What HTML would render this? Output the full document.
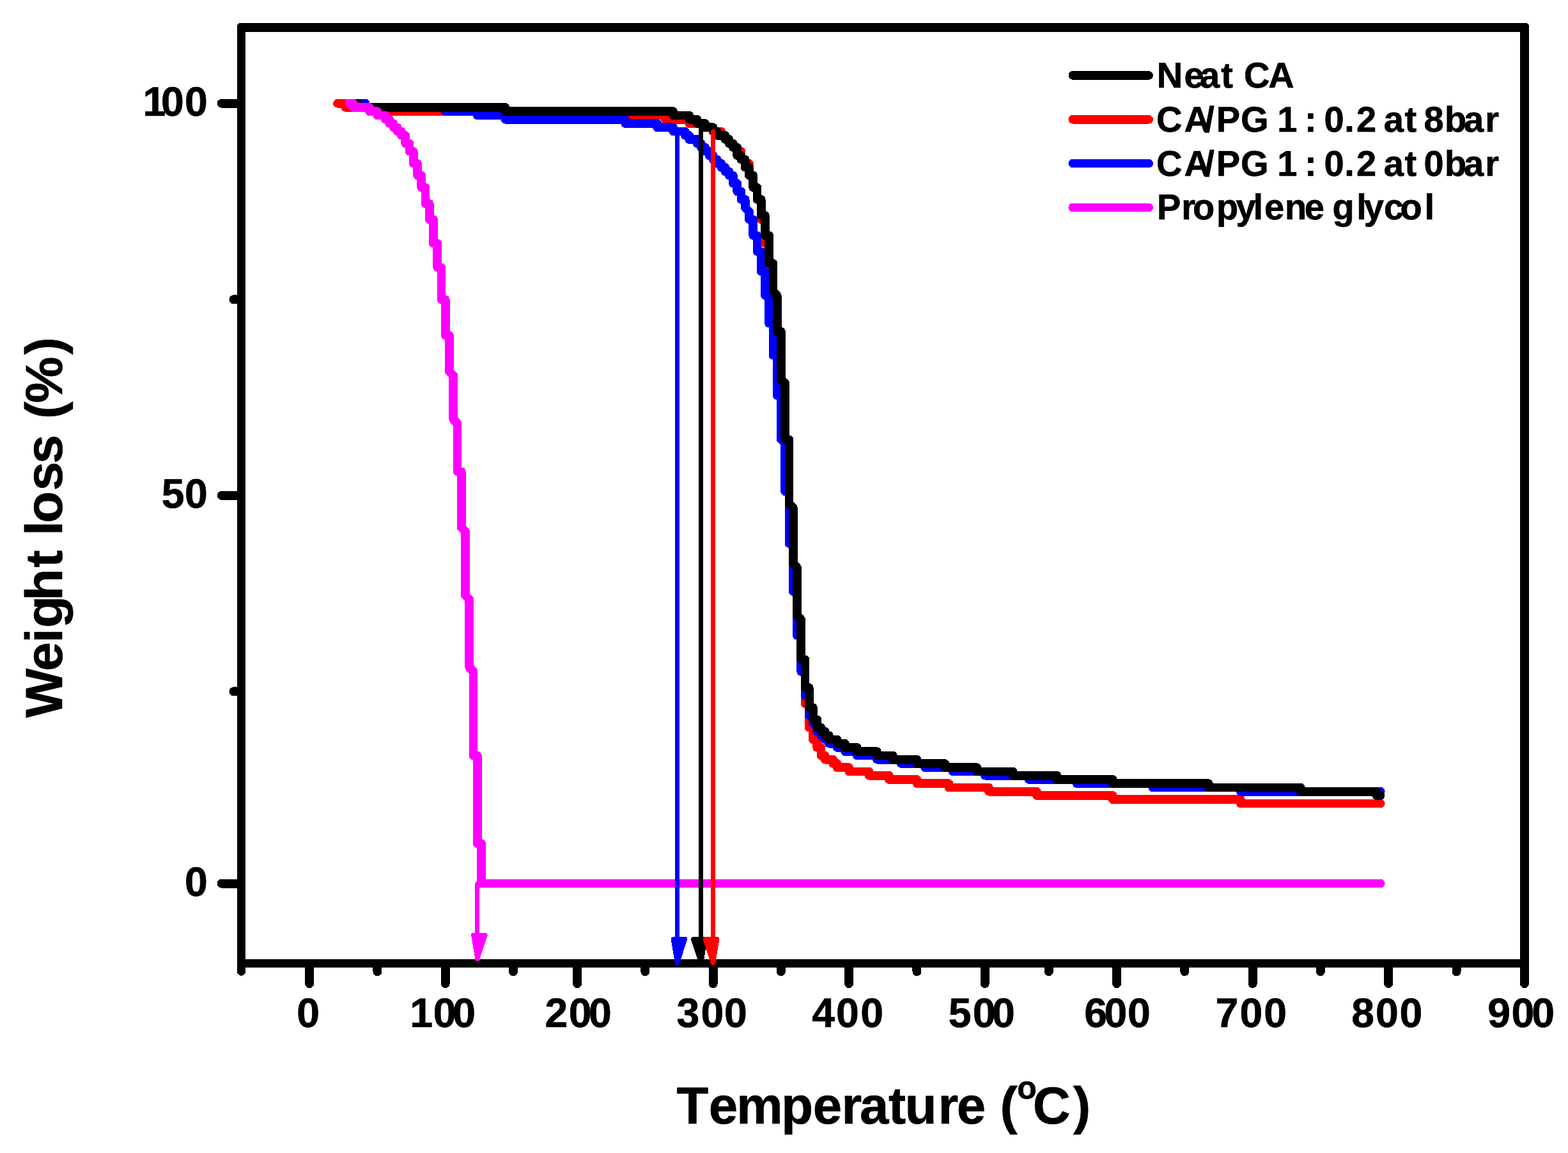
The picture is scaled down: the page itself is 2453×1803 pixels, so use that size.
<!DOCTYPE html>
<html lang="en">
<head>
<meta charset="utf-8">
<title>TGA weight loss vs temperature</title>
<style>
html,body{margin:0;padding:0;background:#fff}
body{width:2453px;height:1803px;overflow:hidden}
svg{display:block}
</style>
</head>
<body>
<svg xmlns="http://www.w3.org/2000/svg" width="2453" height="1803" viewBox="0 0 2453 1803">
<rect width="2453" height="1803" fill="#fff"/>
<g fill="#000" stroke="none" shape-rendering="crispEdges">
<path fill-rule="evenodd" d="M376 36H2387A5 5 0 0 1 2392 41V1508A5 5 0 0 1 2387 1513H376A5 5 0 0 1 371 1508V41A5 5 0 0 1 376 36ZM384 50V1500H2378V50Z"/>
</g>
<g fill="none" stroke="#000" stroke-width="14" stroke-linecap="round" stroke-linejoin="round" shape-rendering="crispEdges">
<path d="M484.18 1508.74V1538.02M590.47 1508.74V1519.25M696.75 1508.74V1538.02M803.04 1508.74V1519.25M903.07 1508.74V1538.02M1009.35 1508.74V1519.25M1115.64 1508.74V1538.02M1221.92 1508.74V1519.25M1328.2 1508.74V1538.02M1434.49 1508.74V1519.25M1540.77 1508.74V1538.02M1640.8 1508.74V1519.25M1747.09 1508.74V1538.02M1853.37 1508.74V1519.25M1959.66 1508.74V1538.02M2065.94 1508.74V1519.25M2172.22 1508.74V1538.02M2278.51 1508.74V1519.25M375.9 161.7H346.64M375.9 468.24H365.4M375.9 774.79H346.64M375.9 1081.33H365.4M375.9 1381.62H346.64"/>
</g>
<path fill="#000" shape-rendering="crispEdges" d="M371 1506V1519.25a6.5 6.5 0 0 0 13 0V1506Z"/>
<path fill="#000" shape-rendering="crispEdges" d="M2378 1506V1538.02a7 7 0 0 0 14 0V1506Z"/>
<g fill="none" stroke-width="13.7" stroke-linecap="round" stroke-linejoin="round" shape-rendering="crispEdges">
<path stroke="#f00" d="M527.95 161.7H540.45V167.96H590.47V174.21H815.54V180.47H1040.61V186.72H1078.12V192.98H1103.13V199.24H1115.64V205.49H1128.14V211.75H1134.39V218H1140.64V224.26H1146.9V230.52H1153.15V236.77H1159.4V249.28H1165.65V255.54H1171.9V274.31H1178.16V293.08H1184.41V311.84H1190.66V343.12H1196.91V380.66H1203.16V418.2H1209.42V455.73L1215.67 461.99V518.29H1221.92V593.36L1228.17 599.62V687.2H1234.42V787.3L1240.68 793.56V881.14L1246.93 887.4V962.47L1253.18 968.72V1043.8H1259.43V1100.1H1265.68V1137.64H1271.94V1156.4H1278.19V1168.92H1284.44V1181.43H1290.69V1187.68H1303.2V1193.94H1309.45V1200.2H1328.2V1206.45H1359.46V1212.71H1390.72V1218.96H1434.49V1225.22H1484.5V1231.48H1547.02V1237.73H1622.05V1243.99H1740.84V1250.24H1940.9V1256.5H2159.72"/>
<path stroke="#00f" d="M559.21 161.7H571.71V167.96H696.75V174.21H746.77V180.47H790.53V186.72H978.09V192.98H1028.11V199.24H1053.12V205.49H1071.87V211.75H1078.12V218H1090.63V224.26H1096.88V230.52H1103.13V236.77H1109.38V243.03H1115.64V249.28H1121.89V255.54H1128.14V261.8H1134.39V268.05H1140.64V274.31H1146.9V286.82H1153.15V299.33H1159.4V311.84H1165.65V324.36L1171.9 330.61V343.12H1178.16V368.15H1184.41V393.17H1190.66V424.45H1196.91V461.99H1203.16V505.78H1209.42V555.83H1215.67V618.39H1221.92V687.2L1228.17 693.46V768.53H1234.42V849.86H1240.68V924.93H1246.93V993.75H1253.18V1050.05H1259.43V1087.59H1265.68V1118.87H1271.94V1131.38H1278.19V1143.89H1284.44V1150.15H1290.69V1156.4H1296.94V1162.66H1309.45V1168.92H1321.95V1175.17H1340.71V1181.43H1371.97V1187.68H1409.48V1193.94H1446.99V1200.2H1490.76V1206.45H1540.77V1212.71H1609.54V1218.96H1684.57V1225.22H1803.36V1231.48H1940.9V1237.73H2159.72"/>
<path stroke="#000" d="M552.96 161.7H559.21V167.96H790.53V174.21H1053.12V180.47H1078.12V186.72H1090.63V192.98H1103.13V199.24H1115.64V205.49H1121.89V211.75H1134.39V218H1140.64V224.26H1146.9V230.52H1153.15V243.03H1159.4V249.28H1165.65V261.8H1171.9V274.31H1178.16V293.08H1184.41V311.84H1190.66V336.87H1196.91V368.15H1203.16V411.94H1209.42V455.73L1215.67 461.99V518.29H1221.92V593.36L1228.17 599.62V687.2H1234.42V787.3L1240.68 793.56V881.14L1246.93 887.4V962.47L1253.18 968.72V1031.28H1259.43V1075.08H1265.68V1106.36H1271.94V1125.12H1278.19V1137.64H1284.44V1143.89H1290.69V1150.15H1296.94V1156.4H1309.45V1162.66H1321.95V1168.92H1340.71V1175.17H1371.97V1181.43H1396.98V1187.68H1434.49V1193.94H1478.25V1200.2H1528.27V1206.45H1584.54V1212.71H1653.31V1218.96H1740.84V1225.22H1890.88V1231.48H2034.68V1237.73H2153.47V1243.99H2159.72"/>
<path stroke="#f0f" d="M546.7 161.7H552.96V167.96H577.96V174.21H590.47V180.47H602.97V186.72H609.22V192.98H615.48V199.24H621.73V205.49H627.98V211.75H634.23V224.26H640.48V236.77H646.74V255.54H652.99V274.31H659.24V293.08H665.49V318.1H671.74V343.12H678V380.66H684.25V418.2H690.5V468.24H696.75V524.55H703V580.85L709.26 587.11V655.92L715.51 662.18V737.25H721.76V824.84L728.01 831.09V931.19L734.26 937.44V1043.8L740.52 1050.05V1181.43H746.77V1319.06H753.02V1381.62H2159.72"/>
<path stroke="#000" d="M1678.32 117.91H1797.1"/>
<path stroke="#f00" d="M1678.32 186.72H1797.1"/>
<path stroke="#00f" d="M1678.32 255.54H1797.1"/>
<path stroke="#f0f" d="M1678.32 324.36H1797.1"/>
</g>
<g stroke="#00f" fill="#00f" stroke-width="6.8" stroke-linecap="round" stroke-linejoin="round" shape-rendering="crispEdges"><path fill="none" d="M1059.37 205.49V1468.6"/><path d="M1053.12 1468.6H1071.87L1059.37 1506.24Z"/></g>
<g stroke="#000" fill="#000" stroke-width="6.8" stroke-linecap="round" stroke-linejoin="round" shape-rendering="crispEdges"><path fill="none" d="M1096.88 192.98V1468.6"/><path d="M1084.38 1468.6H1103.13L1096.88 1506.24Z"/></g>
<g stroke="#f00" fill="#f00" stroke-width="6.8" stroke-linecap="round" stroke-linejoin="round" shape-rendering="crispEdges"><path fill="none" d="M1115.64 205.49V1468.6"/><path d="M1103.13 1468.6H1121.89L1115.64 1506.24Z"/></g>
<g stroke="#f0f" fill="#f0f" stroke-width="6.8" stroke-linecap="round" stroke-linejoin="round" shape-rendering="crispEdges"><path fill="none" d="M746.77 1381.62V1462.35"/><path d="M740.52 1462.35H759.27L746.77 1499.98Z"/></g>
<g font-family="'Liberation Sans', Arial, Helvetica, sans-serif" font-weight="bold" style="font-kerning:none;font-variant-ligatures:none" text-rendering="geometricPrecision" fill="#000" stroke="#000" stroke-width="0.7" stroke-linejoin="round">
<text x="464.3" y="1605.6" font-size="64.4">0</text>
<text x="641.3 677.8 708.2" y="1605.6" font-size="64.4">100</text>
<text x="852.6 889.8 920.9" y="1605.6" font-size="64.4">200</text>
<text x="1058.5 1096.5 1133.1" y="1605.6" font-size="64.4">300</text>
<text x="1270.3 1307.9 1346.2" y="1605.6" font-size="64.4">400</text>
<text x="1483.7 1521.7 1552.1" y="1605.6" font-size="64.4">500</text>
<text x="1696.2 1727.4 1764.1" y="1605.6" font-size="64.4">600</text>
<text x="1901.6 1939.6 1977.3" y="1605.6" font-size="64.4">700</text>
<text x="2114.2 2152.1 2189.5" y="1605.6" font-size="64.4">800</text>
<text x="2327.2 2364.5 2396.3" y="1605.6" font-size="64.4">900</text>
<text x="223.4 252.0 289.0" y="180.7" font-size="64.4">100</text>
<text x="252.7 289.0" y="793.79" font-size="64.4">50</text>
<text x="289.0" y="1400.62" font-size="64.4">0</text>
<text x="1058.6 1108.7 1152.2 1222.2 1271.7 1316.4 1345.1 1390.0 1415.8 1467.4 1496.7 1542.0 1564.6" y="1757" font-size="81.5">Temperature (</text>
<text x="1591.3" y="1718.4" font-size="50">o</text>
<text x="1615.8 1679.1" y="1757" font-size="81.5">C)</text>
<text transform="rotate(-90)" x="-1122.3 -1049.6 -1005.3 -981.7 -938.9 -887.6 -860.2 -837.5 -817.9 -767.3 -724.9 -677.6 -655.0 -630.2 -554.4" y="97.3" font-size="81.5">Weight loss (%)</text>
<text x="1809.8 1852.5 1876.9 1910.2 1930.4 1945.9 1984.3" y="137" font-size="56">Neat CA</text>
<text x="1808.9 1852.6 1884.3 1902.8 1940.9 1982.6 1998.2 2025.3 2040.9 2055.9 2071.5 2103.2 2121.9 2149.2 2164.8 2197.4 2211.9 2227.5 2259.9 2289.9 2323.2" y="205.8" font-size="56">CA/PG 1 : 0.2 at 8bar</text>
<text x="1808.9 1852.6 1884.3 1902.8 1940.9 1982.6 1998.2 2025.3 2040.9 2055.9 2071.5 2103.2 2121.9 2149.2 2164.8 2197.4 2211.9 2227.5 2259.9 2289.9 2323.2" y="275" font-size="56">CA/PG 1 : 0.2 at 0bar</text>
<text x="1810.1 1848.2 1866.0 1903.1 1933.5 1960.5 1977.9 2010.0 2040.8 2069.1 2084.6 2122.3 2133.8 2164.9 2190.6 2228.4" y="343" font-size="56">Propylene glycol</text>
</g>
</svg>
</body>
</html>
